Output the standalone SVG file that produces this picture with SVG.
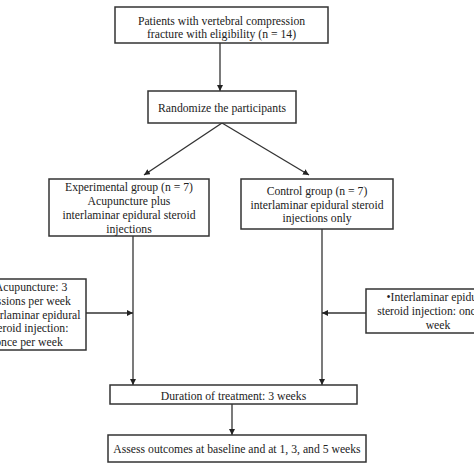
<svg xmlns="http://www.w3.org/2000/svg" width="474" height="474" viewBox="0 0 474 474">
<defs>
<marker id="ah" viewBox="0 0 10 10" refX="10" refY="5" markerWidth="6" markerHeight="6" markerUnits="userSpaceOnUse" orient="auto">
<path d="M0,0 L10,5 L0,10 z" fill="#222"/>
</marker>
<style>
.box{fill:#fff;stroke:#333;stroke-width:1.5}
.t{font-family:"Liberation Serif","Times New Roman",serif;font-size:11.7px;fill:#222;text-anchor:middle}
.c{fill:none;stroke:#333;stroke-width:1.3;marker-end:url(#ah)}
</style>
</defs>
<rect width="474" height="474" fill="#fff"/>
<g id="connectors">
<path class="c" d="M220,43 V91"/>
<path class="c" d="M222,123 L144,175"/>
<path class="c" d="M222,123 L309,175"/>
<path class="c" d="M133,236 V385"/>
<path class="c" d="M322,229 V385"/>
<path class="c" d="M86,313 H133"/>
<path class="c" d="M366,313 H322"/>
<path class="c" d="M232,404 V435"/>
</g>
<g id="patients">
<rect class="box" x="115" y="7" width="213" height="36"/>
<text class="t" x="221.5" y="25">Patients with vertebral compression</text>
<text class="t" x="221.5" y="38">fracture with eligibility (n = 14)</text>
</g>
<g id="randomize">
<rect class="box" x="148" y="91" width="148" height="32"/>
<text class="t" x="222" y="112">Randomize the participants</text>
</g>
<g id="experimental">
<rect class="box" x="49" y="179" width="160" height="57"/>
<text class="t" x="129" y="191">Experimental group (n = 7)</text>
<text class="t" x="129" y="205">Acupuncture plus</text>
<text class="t" x="129" y="219">interlaminar epidural steroid</text>
<text class="t" x="129" y="233">injections</text>
</g>
<g id="control">
<rect class="box" x="241" y="179" width="152" height="50"/>
<text class="t" x="317" y="195">Control group (n = 7)</text>
<text class="t" x="317" y="209">interlaminar epidural steroid</text>
<text class="t" x="317" y="222">injections only</text>
</g>
<g id="exp-detail">
<rect class="box" x="-28" y="279" width="114" height="71"/>
<text class="t" x="29" y="291">•Acupuncture: 3</text>
<text class="t" x="29" y="305">sessions per week</text>
<text class="t" x="29" y="318.5">•Interlaminar epidural</text>
<text class="t" x="29" y="332">steroid injection:</text>
<text class="t" x="29" y="345.5">once per week</text>
</g>
<g id="ctrl-detail">
<rect class="box" x="366" y="289" width="144" height="44"/>
<text class="t" x="438" y="301">•Interlaminar epidural</text>
<text class="t" x="438" y="315">steroid injection: once per</text>
<text class="t" x="438" y="329">week</text>
</g>
<g id="duration">
<rect class="box" x="110" y="385" width="247" height="19"/>
<text class="t" x="233.5" y="399.5">Duration of treatment: 3 weeks</text>
</g>
<g id="assess">
<rect class="box" x="108" y="435" width="258" height="27"/>
<text class="t" x="237" y="453">Assess outcomes at baseline and at 1, 3, and 5 weeks</text>
</g>
</svg>
